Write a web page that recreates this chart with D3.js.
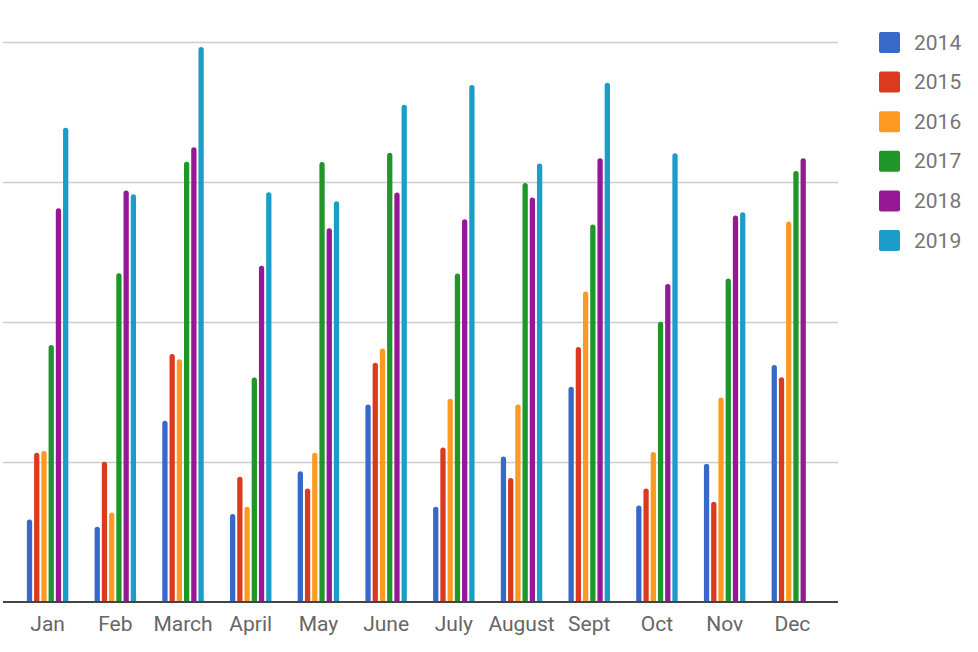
<!DOCTYPE html>
<html>
<head>
<meta charset="utf-8">
<script src="https://cdn.jsdelivr.net/npm/d3@7"></script>
<style>
  html, body { margin: 0; padding: 0; background: #fff; }
  svg { display: block; font-family: Roboto, "Noto Sans", Arial, sans-serif; }
</style>
</head>
<body>
<svg id="chart" width="978" height="652"></svg>
<script>
const months = ["Jan","Feb","March","April","May","June","July","August","Sept","Oct","Nov","Dec"];
const years = ["2014","2015","2016","2017","2018","2019"];
const colors = ["#3868c9","#db3a1e","#fe9a22","#1e9628","#961897","#1a9dc7"];
const yTicks = [0, 50, 100, 150, 200];

const v2014 = [29.4, 26.8, 64.6, 31.3, 46.6, 70.4, 33.9, 51.9, 76.8, 34.4, 49.3, 84.5];
const v2015 = [53.2, 50.0, 88.5, 44.6, 40.4, 85.3, 55.1, 44.2, 91.0, 40.4, 35.7, 80.2];
const v2016 = [53.8, 31.9, 86.6, 33.9, 53.2, 90.4, 72.5, 70.4, 110.8, 53.5, 72.9, 135.8];
const v2017 = [91.7, 117.3, 157.1, 80.1, 157.0, 160.3, 117.2, 149.5, 134.7, 100.0, 115.4, 153.8];
const v2018 = [140.5, 146.9, 162.3, 120.0, 133.4, 146.1, 136.6, 144.4, 158.4, 113.5, 137.9, 158.4];
const v2019 = [169.3, 145.5, 198.1, 146.2, 143.0, 177.5, 184.5, 156.5, 185.3, 160.2, 139.1, null];
const series = [v2014, v2015, v2016, v2017, v2018, v2019];

const svg = d3.select("#chart");
const gridLeft = 3, gridRight = 838;
const y = d3.scaleLinear().domain([0, 200]).range([601.7, 41.7]);
const x0 = d3.scaleBand().domain(months).range([13.75, 826.2]);
const x1 = d3.scaleBand().domain(years).range([-21.7, 21.7]).paddingInner(0.27).paddingOuter(0.135);

// gridlines
svg.append("g").selectAll("line").data(yTicks.filter(t => t > 0)).join("line")
  .attr("x1", gridLeft).attr("x2", gridRight)
  .attr("y1", d => Math.round(y(d)) + 0.5).attr("y2", d => Math.round(y(d)) + 0.5)
  .attr("stroke", "#cccccc").attr("stroke-width", 1.5);

// bars
const bw = x1.bandwidth();
const r = bw / 2;
function barPath(xl, yt, yb) {
  const h = yb - yt;
  const rr = Math.min(r, h);
  return `M${xl},${yb} L${xl},${yt + rr} A${rr},${rr} 0 0 1 ${xl + rr},${yt} L${xl + bw - rr},${yt} A${rr},${rr} 0 0 1 ${xl + bw},${yt + rr} L${xl + bw},${yb} Z`;
}
const barData = [];
months.forEach((m, i) => {
  years.forEach((yr, j) => {
    const v = series[j][i];
    if (v != null) barData.push({ m, yr, v, c: colors[j] });
  });
});
svg.append("g").selectAll("path").data(barData).join("path")
  .attr("d", d => {
    const cx = x0(d.m) + x0.bandwidth() / 2;
    return barPath(cx + x1(d.yr), y(d.v), y(0));
  })
  .attr("fill", d => d.c);

// baseline
svg.append("line")
  .attr("x1", gridLeft).attr("x2", gridRight)
  .attr("y1", y(0) + 0.3).attr("y2", y(0) + 0.3)
  .attr("stroke", "#444444").attr("stroke-width", 1.8);

// x axis labels
const xAxis = svg.append("g").attr("transform", `translate(0,${y(0)})`)
  .call(d3.axisBottom(x0).tickSize(0));
xAxis.select(".domain").remove();
xAxis.selectAll("text")
  .attr("y", 29).attr("dy", 0)
  .attr("fill", "#666666")
  .style("font-size", "21px")
  .style("font-family", "Roboto, 'Noto Sans', Arial, sans-serif");

// legend
const legend = svg.append("g");
const li = legend.selectAll("g").data(years).join("g")
  .attr("transform", (d, i) => `translate(879,${32 + i * 39.6})`);
li.append("rect").attr("width", 21).attr("height", 21).attr("rx", 2)
  .attr("fill", (d, i) => colors[i]);
li.append("text").attr("x", 35).attr("y", 17.5)
  .attr("fill", "#757575").style("font-size", "21px")
  .text(d => d);
</script>
</body>
</html>
